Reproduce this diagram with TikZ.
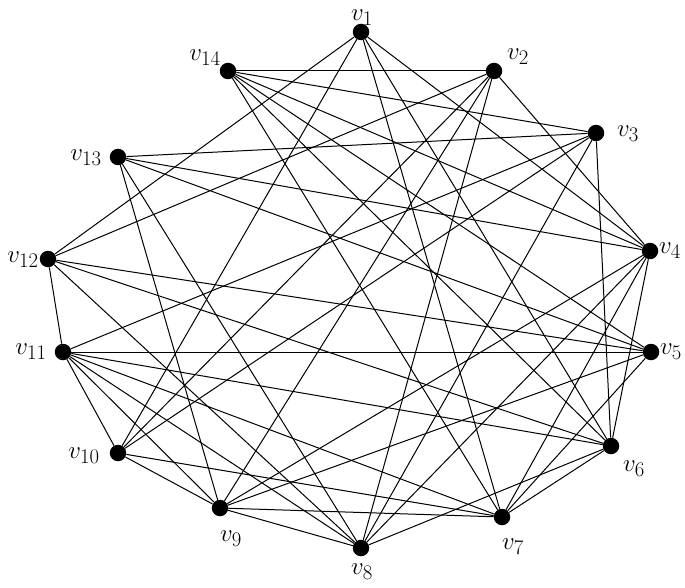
\documentclass[tikz,border=0pt]{standalone}
\begin{document}
\begin{tikzpicture}[x=1pt,y=-1pt,
  vtx/.style={circle,fill=black,inner sep=0pt,minimum size=16.5pt},
  lbl/.style={inner sep=0pt,font=\fontsize{32}{36}\selectfont},
  edge/.style={line width=1pt}]
\useasboundingbox (0,0) rectangle (685,588);
\node[vtx] (v1) at (361,32) {};
\node[vtx] (v2) at (494,71) {};
\node[vtx] (v3) at (596,133) {};
\node[vtx] (v4) at (650,251) {};
\node[vtx] (v5) at (651,352) {};
\node[vtx] (v6) at (611,446) {};
\node[vtx] (v7) at (502,517) {};
\node[vtx] (v8) at (361,548) {};
\node[vtx] (v9) at (220,508) {};
\node[vtx] (v10) at (118,453) {};
\node[vtx] (v11) at (63,352) {};
\node[vtx] (v12) at (48,259) {};
\node[vtx] (v13) at (118,157) {};
\node[vtx] (v14) at (228,71) {};
\node[lbl] (l1) at (362,18) {$v_1$};
\node[lbl] (l2) at (518,57) {$v_2$};
\node[lbl] (l3) at (628,134) {$v_3$};
\node[lbl] (l4) at (670,251) {$v_4$};
\node[lbl] (l5) at (671,352) {$v_5$};
\node[lbl] (l6) at (634,469) {$v_6$};
\node[lbl] (l7) at (513,547) {$v_7$};
\node[lbl] (l8) at (362,572) {$v_8$};
\node[lbl] (l9) at (231,539) {$v_9$};
\node[lbl] (l10) at (84,456) {$v_{10}$};
\node[lbl] (l11) at (31,352) {$v_{11}$};
\node[lbl] (l12) at (23,260) {$v_{12}$};
\node[lbl] (l13) at (86,158) {$v_{13}$};
\node[lbl] (l14) at (205,58) {$v_{14}$};
\foreach \a/\b in {1/12,1/10,1/7,1/6,1/4,
  2/14,2/12,2/10,2/9,2/8,2/4,
  3/14,3/13,3/11,3/10,3/8,3/6,
  4/14,4/13,4/9,4/8,4/7,4/6,
  5/11,5/12,5/13,5/14,5/9,5/7,
  6/12,6/11,6/8,6/7,6/14,
  7/10,7/11,7/14,7/9,
  8/13,8/12,8/9,8/11,
  9/10,9/11,9/13,
  10/11,11/12}
  \draw[edge] (v\a) -- (v\b);
\end{tikzpicture}
\end{document}
